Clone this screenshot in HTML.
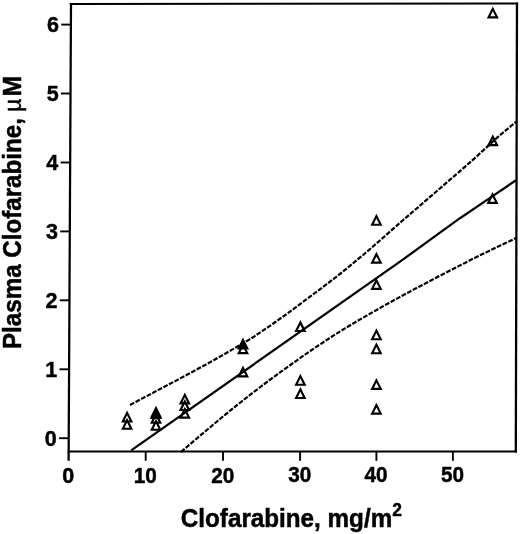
<!DOCTYPE html>
<html><head><meta charset="utf-8"><title>Plasma Clofarabine vs Clofarabine dose</title>
<style>html,body{margin:0;padding:0;background:#fff}svg{display:block}.t{font-family:"Liberation Sans",sans-serif;font-weight:bold;fill:#000}</style></head>
<body><svg width="520" height="534" viewBox="0 0 520 534">
<rect x="0" y="0" width="520" height="534" fill="#fff"/>
<line x1="71.00" y1="3.1" x2="68.60" y2="460.7" stroke="#000" stroke-width="2.25"/>
<line x1="517.00" y1="2.6" x2="515.80" y2="452.5" stroke="#000" stroke-width="2.3"/>
<line x1="69.80" y1="4.0" x2="518.10" y2="3.5" stroke="#000" stroke-width="1.9"/>
<line x1="68.65" y1="451.4" x2="516.90" y2="451.4" stroke="#000" stroke-width="2.0"/>
<line x1="59.1" y1="438.2" x2="68.7" y2="438.2" stroke="#000" stroke-width="1.9"/>
<line x1="59.5" y1="369.3" x2="69.1" y2="369.3" stroke="#000" stroke-width="1.9"/>
<line x1="59.8" y1="300.3" x2="69.4" y2="300.3" stroke="#000" stroke-width="1.9"/>
<line x1="60.2" y1="231.4" x2="69.8" y2="231.4" stroke="#000" stroke-width="1.9"/>
<line x1="60.6" y1="162.5" x2="70.2" y2="162.5" stroke="#000" stroke-width="1.9"/>
<line x1="60.9" y1="93.5" x2="70.5" y2="93.5" stroke="#000" stroke-width="1.9"/>
<line x1="61.3" y1="24.6" x2="70.9" y2="24.6" stroke="#000" stroke-width="1.9"/>
<line x1="145.7" y1="451.6" x2="145.7" y2="460.8" stroke="#000" stroke-width="1.9"/>
<line x1="223.0" y1="451.6" x2="223.0" y2="460.8" stroke="#000" stroke-width="1.9"/>
<line x1="300.1" y1="451.6" x2="300.1" y2="460.8" stroke="#000" stroke-width="1.9"/>
<line x1="376.4" y1="451.6" x2="376.4" y2="460.8" stroke="#000" stroke-width="1.9"/>
<line x1="452.9" y1="451.6" x2="452.9" y2="460.8" stroke="#000" stroke-width="1.9"/>
<text transform="translate(56.8,445.7)" class="t" font-size="21.5" stroke="#000" stroke-width="0.45" text-anchor="end">0</text>
<text transform="translate(57.2,376.8)" class="t" font-size="21.5" stroke="#000" stroke-width="0.45" text-anchor="end">1</text>
<text transform="translate(57.5,307.8)" class="t" font-size="21.5" stroke="#000" stroke-width="0.45" text-anchor="end">2</text>
<text transform="translate(57.9,238.9)" class="t" font-size="21.5" stroke="#000" stroke-width="0.45" text-anchor="end">3</text>
<text transform="translate(58.3,170.0)" class="t" font-size="21.5" stroke="#000" stroke-width="0.45" text-anchor="end">4</text>
<text transform="translate(58.6,101.0)" class="t" font-size="21.5" stroke="#000" stroke-width="0.45" text-anchor="end">5</text>
<text transform="translate(59.0,32.1)" class="t" font-size="21.5" stroke="#000" stroke-width="0.45" text-anchor="end">6</text>
<text transform="translate(68.15,482.5) scale(1,1)" class="t" font-size="21.5" stroke="#000" stroke-width="0.45" text-anchor="middle">0</text>
<text transform="translate(145.35,482.5) scale(0.965,1)" class="t" font-size="21.5" stroke="#000" stroke-width="0.45" text-anchor="middle">10</text>
<text transform="translate(222.65,482.5) scale(0.965,1)" class="t" font-size="21.5" stroke="#000" stroke-width="0.45" text-anchor="middle">20</text>
<text transform="translate(299.75,482.4) scale(0.965,1)" class="t" font-size="21.5" stroke="#000" stroke-width="0.45" text-anchor="middle">30</text>
<text transform="translate(376.10,482.0) scale(0.965,1)" class="t" font-size="21.5" stroke="#000" stroke-width="0.45" text-anchor="middle">40</text>
<text transform="translate(452.60,481.9) scale(0.965,1)" class="t" font-size="21.5" stroke="#000" stroke-width="0.45" text-anchor="middle">50</text>
<text transform="translate(180.8,527.1) scale(0.94,1)" class="t" font-size="25.8" stroke="#000" stroke-width="0.5">Clofarabine, mg/m<tspan dy="-11.5" font-size="18.6" stroke-width="0.4">2</tspan></text>
<text transform="translate(20.8,349) rotate(-90) scale(0.94,1)" class="t" font-size="25.7" stroke="#000" stroke-width="0.5">Plasma Clofarabine, <tspan font-weight="normal" font-size="24" dx="-0.5" stroke="#000" stroke-width="0.5">µ</tspan><tspan dx="2.5" font-size="26.3">M</tspan></text>
<polyline points="131.2,450.4 400.0,261.7 430.0,239.9 460.0,218.2 490.0,197.9 516.0,180.2" fill="none" stroke="#000" stroke-width="2.25" stroke-linejoin="round"/>
<path d="M130.0,405.0 L134.0,402.9 L138.0,400.7 L142.0,398.6 L146.0,396.5 L150.0,394.4 L154.0,392.2 L158.0,390.1 L162.0,388.0 L166.0,385.9 L170.0,383.8 L174.0,381.7 L178.0,379.6 L182.0,377.4 L186.0,375.3 L190.0,373.2 L194.0,371.0 L198.0,368.8 L202.0,366.6 L206.0,364.5 L210.0,362.2 L214.0,360.0 L218.0,357.8 L222.0,355.5 L226.0,353.2 L230.0,350.9 L234.0,348.6 L238.0,346.3 L242.0,343.9 L246.0,341.5 L250.0,339.1 L254.0,336.6 L258.0,333.9 L262.0,331.2 L266.0,328.5 L270.0,325.8 L274.0,323.0 L278.0,320.2 L282.0,317.3 L286.0,314.5 L290.0,311.6 L294.0,308.7 L298.0,305.7 L302.0,302.7 L306.0,299.7 L310.0,296.7 L314.0,293.7 L318.0,290.8 L322.0,287.8 L326.0,284.7 L330.0,281.7 L334.0,278.6 L338.0,275.5 L342.0,272.3 L346.0,269.1 L350.0,265.8 L354.0,262.5 L358.0,259.2 L362.0,255.9 L366.0,252.5 L370.0,249.1 L374.0,245.6 L378.0,242.1 L382.0,238.6 L386.0,235.1 L390.0,231.6 L394.0,228.1 L398.0,224.5 L402.0,221.0 L406.0,217.6 L410.0,214.2 L414.0,210.7 L418.0,207.3 L422.0,203.8 L426.0,200.3 L430.0,196.9 L434.0,193.5 L438.0,190.1 L442.0,186.6 L446.0,183.2 L450.0,179.7 L454.0,176.3 L458.0,172.8 L462.0,169.3 L466.0,165.8 L470.0,162.3 L474.0,158.8 L478.0,155.2 L482.0,151.5 L486.0,147.9 L490.0,144.2 L494.0,140.5 L498.0,136.9 L502.0,133.5 L506.0,130.2 L510.0,126.8 L514.0,123.5 L516.0,121.8" fill="none" stroke="#000" stroke-width="2.2" stroke-dasharray="4.8,1.5"/>
<path d="M181.0,452.1 L185.0,448.6 L189.0,445.2 L193.0,441.7 L197.0,438.3 L201.0,434.9 L205.0,431.6 L209.0,428.2 L213.0,424.8 L217.0,421.5 L221.0,418.2 L225.0,414.9 L229.0,411.6 L233.0,408.4 L237.0,405.2 L241.0,402.0 L245.0,398.9 L249.0,395.7 L253.0,392.6 L257.0,389.6 L261.0,386.5 L265.0,383.5 L269.0,380.5 L273.0,377.5 L277.0,374.6 L281.0,371.7 L285.0,368.8 L289.0,366.0 L293.0,363.1 L297.0,360.3 L301.0,357.4 L305.0,354.7 L309.0,351.9 L313.0,349.2 L317.0,346.4 L321.0,343.8 L325.0,341.1 L329.0,338.5 L333.0,335.9 L337.0,333.4 L341.0,330.9 L345.0,328.4 L349.0,326.0 L353.0,323.6 L357.0,321.2 L361.0,318.9 L365.0,316.6 L369.0,314.2 L373.0,312.0 L377.0,309.7 L381.0,307.4 L385.0,305.2 L389.0,303.0 L393.0,300.8 L397.0,298.6 L401.0,296.4 L405.0,294.2 L409.0,292.1 L413.0,289.9 L417.0,287.8 L421.0,285.7 L425.0,283.6 L429.0,281.5 L433.0,279.4 L437.0,277.3 L441.0,275.2 L445.0,273.1 L449.0,271.1 L453.0,269.0 L457.0,267.0 L461.0,264.9 L465.0,262.9 L469.0,260.8 L473.0,258.8 L477.0,256.8 L481.0,254.8 L485.0,252.9 L489.0,251.0 L493.0,249.0 L497.0,247.1 L501.0,245.2 L505.0,243.3 L509.0,241.4 L513.0,239.5 L516.0,238.1" fill="none" stroke="#000" stroke-width="2.2" stroke-dasharray="4.8,1.5"/>
<g fill="#000" fill-rule="evenodd">
<path d="M121.1,422.5 L133.1,422.5 L127.1,410.5 Z M124.6,420.4 L129.6,420.4 L127.1,415.3 Z"/>
<path d="M121.1,429.8 L133.1,429.8 L127.1,417.8 Z M124.6,427.7 L129.6,427.7 L127.1,422.6 Z"/>
<path d="M150.0,417.8 L162.0,417.8 L156.0,405.8 Z"/>
<path d="M150.0,419.0 L162.0,419.0 L156.0,407.0 Z M153.5,416.9 L158.5,416.9 L156.0,411.8 Z"/>
<path d="M150.0,423.8 L162.0,423.8 L156.0,411.8 Z M153.5,421.7 L158.5,421.7 L156.0,416.6 Z"/>
<path d="M150.0,430.8 L162.0,430.8 L156.0,418.8 Z M153.5,428.7 L158.5,428.7 L156.0,423.6 Z"/>
<path d="M178.8,404.4 L190.8,404.4 L184.8,392.4 Z M182.3,402.2 L187.3,402.2 L184.8,397.2 Z"/>
<path d="M178.8,411.0 L190.8,411.0 L184.8,399.0 Z M182.3,408.9 L187.3,408.9 L184.8,403.8 Z"/>
<path d="M178.8,418.7 L190.8,418.7 L184.8,406.7 Z M182.3,416.6 L187.3,416.6 L184.8,411.5 Z"/>
<path d="M237.0,349.5 L249.0,349.5 L243.0,337.5 Z"/>
<path d="M237.0,354.2 L249.0,354.2 L243.0,342.2 Z M240.5,352.1 L245.5,352.1 L243.0,347.0 Z"/>
<path d="M237.0,377.4 L249.0,377.4 L243.0,365.4 Z M240.5,375.2 L245.5,375.2 L243.0,370.2 Z"/>
<path d="M294.4,332.1 L306.4,332.1 L300.4,320.1 Z M297.8,330.0 L302.9,330.0 L300.4,324.9 Z"/>
<path d="M294.4,385.8 L306.4,385.8 L300.4,373.8 Z M297.8,383.7 L302.9,383.7 L300.4,378.6 Z"/>
<path d="M294.4,399.0 L306.4,399.0 L300.4,387.0 Z M297.8,396.9 L302.9,396.9 L300.4,391.8 Z"/>
<path d="M370.4,225.8 L382.4,225.8 L376.4,213.8 Z M373.9,223.7 L379.0,223.7 L376.4,218.6 Z"/>
<path d="M370.4,263.7 L382.4,263.7 L376.4,251.7 Z M373.9,261.6 L379.0,261.6 L376.4,256.5 Z"/>
<path d="M370.4,289.9 L382.4,289.9 L376.4,277.9 Z M373.9,287.8 L379.0,287.8 L376.4,282.7 Z"/>
<path d="M370.4,340.3 L382.4,340.3 L376.4,328.3 Z M373.9,338.2 L379.0,338.2 L376.4,333.1 Z"/>
<path d="M370.4,354.3 L382.4,354.3 L376.4,342.3 Z M373.9,352.2 L379.0,352.2 L376.4,347.1 Z"/>
<path d="M370.4,389.9 L382.4,389.9 L376.4,377.9 Z M373.9,387.8 L379.0,387.8 L376.4,382.7 Z"/>
<path d="M370.4,414.8 L382.4,414.8 L376.4,402.8 Z M373.9,412.6 L379.0,412.6 L376.4,407.6 Z"/>
<path d="M486.8,18.4 L498.8,18.4 L492.8,6.4 Z M490.3,16.2 L495.3,16.2 L492.8,11.2 Z"/>
<path d="M486.8,146.2 L498.8,146.2 L492.8,134.2 Z M490.3,144.0 L495.3,144.0 L492.8,139.0 Z"/>
<path d="M486.5,204.0 L498.5,204.0 L492.5,192.0 Z M490.0,201.8 L495.0,201.8 L492.5,196.8 Z"/>
</g>
</svg></body></html>
